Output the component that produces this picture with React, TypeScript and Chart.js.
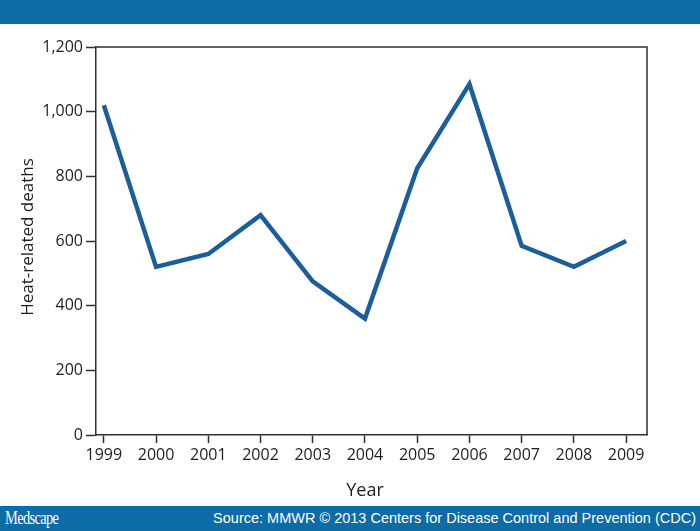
import React, { useEffect, useRef } from "react";
import { Chart, registerables } from "chart.js";

Chart.register(...registerables);

const years = [1999, 2000, 2001, 2002, 2003, 2004, 2005, 2006, 2007, 2008, 2009];
const deaths = [1020, 520, 560, 680, 475, 360, 825, 1085, 585, 520, 600];
const yTicks = [0, 200, 400, 600, 800, 1000, 1200];
const xTitle = "Year";
const yTitle = "Heat-related deaths";
const sourceText = "Source: MMWR \u00A9 2013 Centers for Disease Control and Prevention (CDC)";

const AXIS = "#2f2f2f";
const LINE = "#1b5e9b";
const BAR = "#0d6ba5";
const FONT = "'Open Sans', 'Noto Sans', sans-serif";

export default function App() {
  const ref = useRef<HTMLCanvasElement | null>(null);

  useEffect(() => {
    if (!ref.current) return;
    const framePlugin = {
      id: "frameAndTitles",
      afterDraw(chart: any) {
        const { ctx, chartArea } = chart;
        ctx.save();
        ctx.strokeStyle = AXIS;
        ctx.lineWidth = 1.5;
        ctx.beginPath();
        ctx.moveTo(chartArea.left, chartArea.top);
        ctx.lineTo(chartArea.right, chartArea.top);
        ctx.lineTo(chartArea.right, chartArea.bottom);
        ctx.stroke();
        ctx.fillStyle = "#1e1e1e";
        ctx.font = `18px ${FONT}`;
        ctx.textAlign = "center";
        ctx.textBaseline = "middle";
        const xs = chart.scales.x;
        const cx = (xs.getPixelForValue(years[0]) + xs.getPixelForValue(years[years.length - 1])) / 2;
        ctx.fillText(xTitle, cx, 491);
        ctx.translate(28, 237);
        ctx.rotate(-Math.PI / 2);
        ctx.font = `17px ${FONT}`;
        ctx.fillText(yTitle, 0, 0);
        ctx.restore();
      },
    };

    const chart = new Chart(ref.current, {
      type: "line",
      data: {
        datasets: [
          {
            data: years.map((y, i) => ({ x: y, y: deaths[i] })),
            borderColor: LINE,
            borderWidth: 4.5,
            borderJoinStyle: "miter",
            pointRadius: 0,
            tension: 0,
            fill: false,
          },
        ],
      },
      options: {
        responsive: false,
        animation: false,
        layout: { padding: { top: 47, right: 53, left: 0, bottom: 0 } },
        plugins: { legend: { display: false }, tooltip: { enabled: false } },
        scales: {
          x: {
            type: "linear",
            min: 1998.85,
            max: 2009.4,
            afterBuildTicks: (scale: any) => {
              scale.ticks = years.map((v) => ({ value: v }));
            },
            afterFit: (scale: any) => {
              scale.height = 96;
            },
            grid: {
              drawOnChartArea: false,
              drawTicks: true,
              tickLength: 8,
              tickWidth: 1.5,
              tickColor: AXIS,
              color: AXIS,
            },
            border: { display: true, color: AXIS, width: 1.5 },
            ticks: {
              autoSkip: false,
              maxRotation: 0,
              padding: 3,
              color: "#1e1e1e",
              font: { family: FONT, size: 16 },
              callback: (v: any) => String(v),
            },
          },
          y: {
            type: "linear",
            min: 0,
            max: 1200,
            afterBuildTicks: (scale: any) => {
              scale.ticks = yTicks.map((v) => ({ value: v }));
            },
            afterFit: (scale: any) => {
              scale.width = 96;
            },
            grid: {
              drawOnChartArea: false,
              drawTicks: true,
              tickLength: 10,
              tickWidth: 1.5,
              tickColor: AXIS,
              color: AXIS,
            },
            border: { display: true, color: AXIS, width: 1.5 },
            ticks: {
              padding: 3,
              color: "#1e1e1e",
              font: { family: FONT, size: 16 },
              callback: (v: any) => Number(v).toLocaleString("en-US"),
            },
          },
        },
      },
      plugins: [framePlugin],
    } as any);
    return () => chart.destroy();
  }, []);

  return (
    <div style={{ position: "absolute", left: 0, top: 0, width: 700, height: 531, background: "#fff", overflow: "hidden" }}>
      <div style={{ position: "absolute", left: 0, top: 0, width: 700, height: 24, background: BAR }} />
      <canvas ref={ref} width={700} height={531} style={{ position: "absolute", left: 0, top: 0, width: 700, height: 531, display: "block" }} />
      <div style={{ position: "absolute", left: 0, top: 506, width: 700, height: 25, background: BAR }}>
        <span
          style={{
            position: "absolute",
            left: 5,
            top: 2,
            color: "#fff",
            fontFamily: "'Liberation Serif', 'DejaVu Serif', serif",
            fontSize: 18,
            letterSpacing: -0.8,
            lineHeight: "20px",
            transform: "scaleX(0.8)",
            transformOrigin: "left center",
            display: "inline-block",
          }}
        >
          Medscape
        </span>
        <span
          style={{
            position: "absolute",
            right: 4,
            top: 3,
            color: "#fff",
            fontFamily: "'Liberation Sans', Arial, sans-serif",
            fontSize: 14.5,
            lineHeight: "18px",
            whiteSpace: "nowrap",
          }}
        >
          {sourceText}
        </span>
      </div>
    </div>
  );
}
